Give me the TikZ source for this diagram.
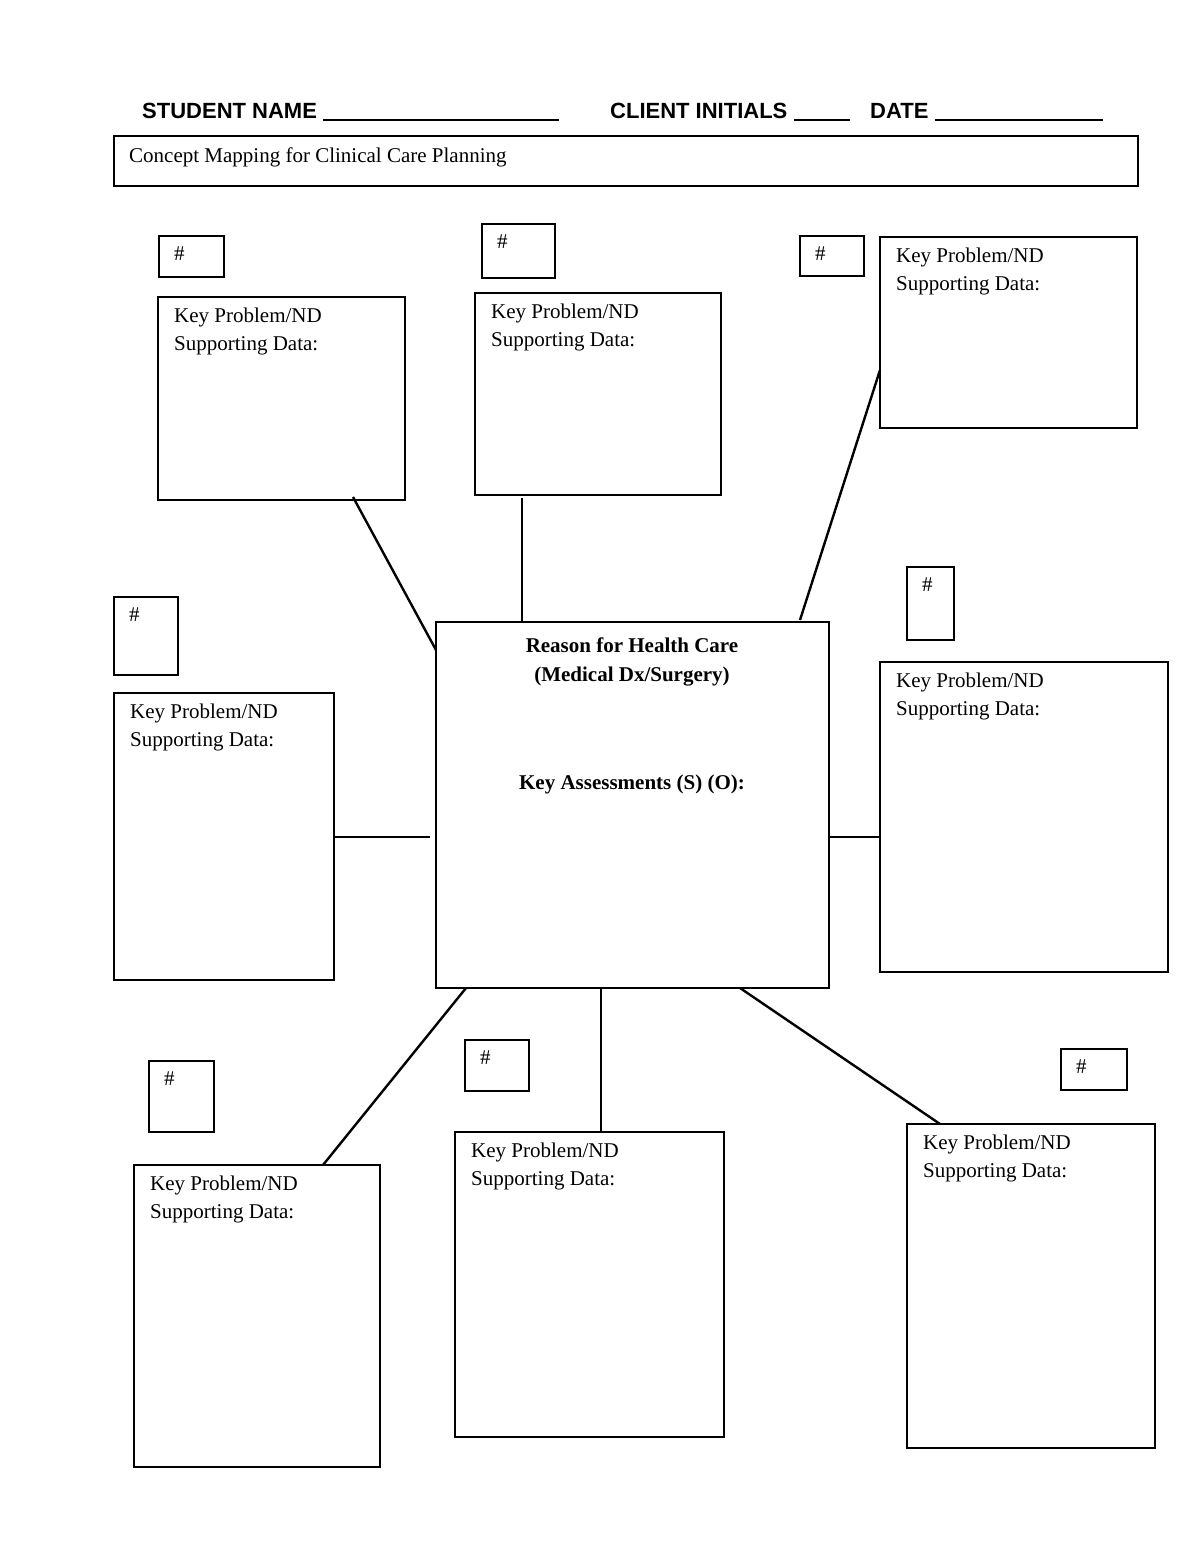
\documentclass[tikz,border=0pt]{standalone}
\usepackage{fontspec}
\setmainfont{Liberation Serif}
\newfontfamily\hdr{Liberation Sans}
\begin{document}
\begin{tikzpicture}[x=0.5pt,y=-0.5pt,line width=1.2pt,
  bx/.style={draw,line width=1.2pt},
  lbl/.style={anchor=north west,align=left,font=\fontsize{10.5}{14}\selectfont,inner sep=0pt},
  hs/.style={anchor=north west,font=\fontsize{10.5}{12}\selectfont,inner sep=0pt},
  hd/.style={anchor=west,font=\hdr\bfseries\fontsize{11}{13}\selectfont,inner sep=0pt}]
\useasboundingbox (0,0) rectangle (1200,1553);
\node[hd] (h1) at (141,112) {STUDENT NAME \rule[-1pt]{118pt}{0.8pt}};
\node[hd] (h2) at (609,112) {CLIENT INITIALS \rule[-1pt]{28pt}{0.8pt}};
\node[hd] (h3) at (869,112) {DATE \rule[-1pt]{84pt}{0.8pt}};
\draw[bx] (114,136) rectangle (1138,186);
\node[hs] (t) at (128,147) {Concept Mapping for Clinical Care Planning};
\def\kb#1#2#3#4#5#6#7#8{%
  \draw[bx] (#1,#2) rectangle (#3,#4);
  \node[lbl] at (#1+15,#2+10) {Key Problem/ND\\Supporting Data:};
  \draw[bx] (#5,#6) rectangle (#7,#8);
  \node[hs] at (#5+14,#6+10) {\#};}
\kb{158}{297}{405}{500}{159}{236}{224}{277}
\kb{475}{293}{721}{495}{482}{224}{555}{278}
\kb{880}{237}{1137}{428}{800}{236}{864}{276}
\kb{114}{693}{334}{980}{114}{597}{178}{675}
\kb{880}{662}{1168}{972}{907}{567}{954}{640}
\kb{134}{1165}{380}{1467}{149}{1061}{214}{1132}
\kb{455}{1132}{724}{1437}{465}{1040}{529}{1091}
\kb{907}{1124}{1155}{1448}{1061}{1049}{1127}{1090}
\draw[bx] (436,622) rectangle (829,988);
\node[font=\bfseries\fontsize{10.5}{14.5}\selectfont,align=center,anchor=north] (c1) at (632,630) {Reason for Health Care\\(Medical Dx/Surgery)};
\node[font=\bfseries\fontsize{10.5}{14}\selectfont,anchor=north] (c2) at (632,767) {Key Assessments (S) (O):};
\draw (353,497)--(436,650);
\draw (522,498)--(522,622);
\draw (880,370)--(800,620);
\draw (334,837)--(430,837);
\draw (829,837)--(880,837);
\draw (466,988)--(323,1165);
\draw (601,988)--(601,1132);
\draw (740,988)--(940,1124);
\end{tikzpicture}
\end{document}
